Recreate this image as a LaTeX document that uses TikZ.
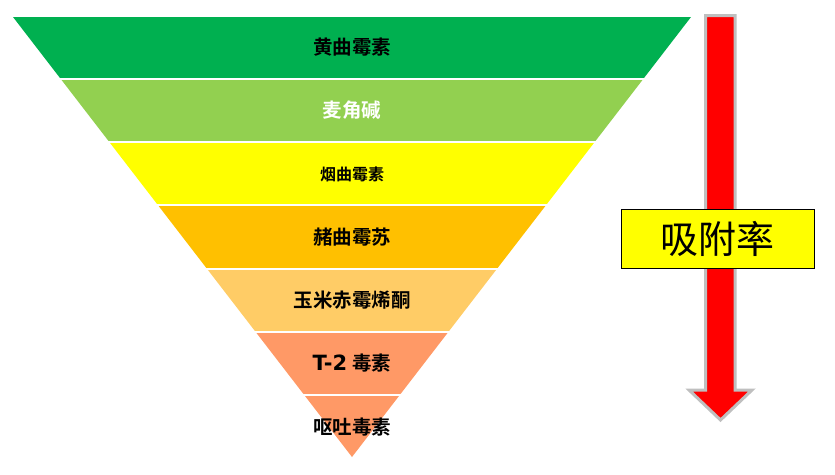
\documentclass[tikz,border=0pt]{standalone}
\usepackage{fontspec}
\newfontfamily\cjk{Noto Sans CJK SC}
\newfontfamily\cjkb{Noto Sans CJK SC Bold}
\newfontfamily\latb{DejaVu Sans Bold}
\definecolor{c1}{HTML}{00B050}
\definecolor{c2}{HTML}{92D050}
\definecolor{c3}{HTML}{FFFF00}
\definecolor{c4}{HTML}{FFC000}
\definecolor{c5}{HTML}{FFCC66}
\definecolor{c6}{HTML}{FF9966}
\definecolor{c7}{HTML}{FF9966}
\definecolor{arrgray}{HTML}{BFBFBF}
\tikzset{
  lab/.style={inner sep=0pt, font=\cjkb\fontsize{19.5}{19.5}\selectfont},
}
\begin{document}
\begin{tikzpicture}[x=1pt,y=-1pt]
\useasboundingbox (0,0) rectangle (835,474);
\foreach \i/\c in {0/c1,1/c2,2/c3,3/c4,4/c5,5/c6,6/c7}{
  \begin{scope}
    \pgfmathsetmacro{\ta}{17+\i*63.33}
    \pgfmathsetmacro{\tb}{\ta+60.33}
    \clip (0,\ta) rectangle (835,\tb);
    \fill[\c] (13,17) -- (691,17) -- (352,457) -- cycle;
  \end{scope}
}
\node[lab] (l1) at (352,47) {黄曲霉素};
\node[lab,text=white] (l2) at (352,110) {麦角碱};
\node[lab,font=\cjkb\fontsize{16}{16}\selectfont] (l3) at (352,174) {烟曲霉素};
\node[lab] (l4) at (352,237) {赭曲霉苏};
\node[lab] (l5) at (352,300) {玉米赤霉烯酮};
\node[lab] (l6) at (352,363) {{\latb\fontsize{21}{21}\selectfont T-2}\hspace{5pt}毒素};
\node[lab] (l7) at (352,427) {呕吐毒素};
\fill[red, draw=arrgray, line width=3pt, line join=miter]
  (705.5,15.5) -- (735.2,15.5) -- (735.2,390) -- (752,390) -- (720.5,420) -- (689,390) -- (705.5,390) -- cycle;
\node[draw=black, line width=1pt, fill=c3, minimum width=193pt, minimum height=59pt, inner sep=0pt,
  font=\cjk\fontsize{38}{38}\selectfont] (box) at (717.5,238.5) {吸附率};
\end{tikzpicture}
\end{document}
